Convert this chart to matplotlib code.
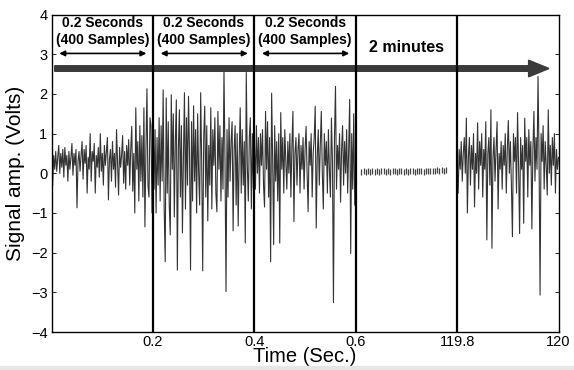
import numpy as np
import matplotlib.pyplot as plt
from matplotlib.patches import Rectangle

plt.rcParams['font.family'] = ['Liberation Sans', 'DejaVu Sans']

# each recorded window: 0.2 s (400 samples), shown here at 100 points per window
seg1 = [0.35, -0.30, 0.45, 0.10, 0.55, 0.05, 0.40, 0.70, 0.00, 0.50,
        0.15, 0.60, -0.10, 0.65, 0.20, 0.45, -0.20, 0.55, 0.10, 0.40,
        0.75, -0.05, 0.50, 0.20, 0.60, -0.87, 0.30, 0.55, 0.05, 0.45,
        0.80, -0.15, 0.60, 0.25, 0.70, -0.50, 0.40, 0.10, 1.00, -0.20,
        0.55, 0.30, 0.75, -0.50, 0.45, 0.15, 0.65, -0.10, 1.00, 0.05,
        0.50, -0.30, 0.70, 0.20, 0.55, 0.90, -0.67, 0.35, 0.60, -0.20,
        0.80, 0.10, 0.50, -0.35, 1.10, 0.25, -0.55, 0.65, 0.15, 0.45,
        0.95, -0.25, 0.55, -0.40, 0.70, 0.20, 0.85, -0.30, 0.60, 1.18,
        -0.45, 0.50, -1.00, 1.65, 0.10, 0.80, -0.70, 1.20, -0.20, 0.95,
        -0.60, 1.65, -1.35, 0.60, 2.13, -0.30, -0.60, 1.40, 1.20, -1.00]

seg2 = [1.50, -0.40, 1.10, -1.00, 0.90, -0.30, 1.40, -0.70, 1.20, -0.20,
        2.10, -0.90, -2.23, 1.90, -0.50, 1.30, -0.80, -1.55, 1.98, 0.10,
        1.50, -1.10, 0.80, 1.85, -2.44, 0.60, 1.60, -0.60, 1.20, -1.50,
        0.40, 2.03, -0.90, 1.40, -0.30, 1.94, 0.50, -2.44, 1.30, -0.70,
        1.70, -0.20, 1.10, -1.00, 1.50, 0.00, -0.80, 2.03, 0.30, -2.46,
        0.90, 1.69, -0.60, 1.20, -1.20, 0.70, -0.30, 1.65, -0.90, 1.10,
        0.20, 1.40, -0.50, -0.97, 1.56, 0.10, 1.20, -0.70, 0.90, -0.40,
        2.60, 0.30, -2.98, 1.10, -0.60, 1.40, -0.20, 0.80, 1.30, -1.45,
        0.60, 1.20, -0.80, 1.00, -1.33, 0.40, 1.65, -0.50, 1.10, -0.30,
        0.80, -1.76, 2.54, 0.20, -0.70, 0.90, 1.40, -0.90, 1.00, -0.40]

seg3 = [0.80, -0.40, 1.20, 0.00, 0.90, -0.50, 1.00, 0.20, 1.10, -0.30,
        -0.85, 1.56, 0.10, 1.30, -0.60, 0.90, -2.23, 2.02, 0.40, -1.80,
        1.20, -0.20, 0.80, -0.70, 1.00, -1.76, 1.53, 0.10, 0.90, -0.50,
        1.10, 0.30, -0.40, 0.80, 0.00, 1.00, -0.60, 0.70, 1.56, -1.22,
        0.50, 0.90, -0.30, 0.60, 1.00, -0.50, 0.70, 0.10, 0.90, -0.40,
        0.60, 1.18, 0.00, -0.97, 0.80, 0.20, 1.00, -0.60, 0.50, 0.90,
        1.69, -1.38, 0.40, 1.10, -0.30, 0.70, 1.56, 0.00, -0.90, 1.00,
        0.20, 0.80, -0.50, 1.10, 0.10, -0.60, 1.39, 0.30, -3.26, 0.90,
        2.19, -0.40, 0.70, 0.10, 1.00, -0.73, 0.60, 1.20, -0.30, 0.80,
        0.00, 1.10, -0.50, 0.60, 1.86, -2.02, 1.00, -0.40, 1.50, -0.80]

seg_last = [0.20, -0.50, 0.60, 0.10, 0.80, -0.20, 0.50, 0.90, 0.00, 1.39,
            -1.00, 0.40, 0.90, -0.30, 0.70, 0.10, 1.00, -0.85, 0.50, 0.00,
            1.27, -0.40, 0.80, 0.20, 1.00, -0.60, 0.60, 0.10, 1.30, -1.68,
            0.50, 0.90, -0.30, 1.60, -1.89, 0.40, 0.90, -0.20, 0.60, 1.30,
            -0.90, 0.50, 0.10, 0.80, -0.40, 0.70, 0.20, 1.00, -0.50, 0.60,
            1.33, 0.00, 0.80, -0.30, -1.60, 1.00, 0.30, 0.90, -0.50, 1.53,
            0.20, -1.52, 0.90, 0.10, 0.70, -1.26, 1.39, 0.30, 0.90, -0.60,
            1.10, 0.20, 0.80, -1.40, 0.60, 1.56, -0.20, 0.90, 0.10, 2.44,
            0.40, -3.07, 1.00, 0.30, 1.20, -0.40, 0.80, 0.20, -0.55, 1.60,
            0.00, 0.70, -0.30, 0.90, 0.20, 1.00, -0.50, 0.60, 0.10, 0.40]

# the 2-minute gap, drawn as a row of short ticks
gap_marks = [0.04, 0.05, 0.03, 0.05, 0.04, 0.06, 0.04, 0.05, 0.03, 0.05,
             0.06, 0.04, 0.05, 0.04, 0.06, 0.05, 0.04, 0.05, 0.06, 0.04,
             0.05, 0.04, 0.06, 0.05, 0.04, 0.05, 0.06, 0.05, 0.04, 0.06,
             0.05, 0.06, 0.05, 0.06, 0.07, 0.06, 0.07, 0.06, 0.07]

tick_pos = [0.2, 0.4, 0.6, 0.8, 1.0]
tick_labels = ['0.2', '0.4', '0.6', '119.8', '120']
window_top = ['0.2 Seconds'] * 3
window_bottom = ['(400 Samples)'] * 3

fig = plt.figure(figsize=(5.74, 3.70), dpi=100)
fig.patches.append(Rectangle((0, 0), 1, 0.012, transform=fig.transFigure,
                             color='#e6e6e6', zorder=0))
ax = fig.add_axes([0.090, 0.1027, 0.883, 0.858])

sig_color = '#333333'
first = np.array(seg1 + seg2 + seg3)
t_first = np.linspace(0, 0.6, len(first), endpoint=False)
ax.plot(t_first, first, color=sig_color, lw=0.8)

t_last = np.linspace(0.8, 1.0, len(seg_last))
ax.plot(t_last, seg_last, color=sig_color, lw=0.8)

t_gap = np.linspace(0.611, 0.778, len(gap_marks))
ax.plot(t_gap, gap_marks, ls='none', marker='|', ms=4, mew=0.9, color='#444444')

for x in tick_pos[:-1]:
    ax.axvline(x, color='black', lw=1.6, zorder=5)

# window annotations
for i in range(3):
    xc = 0.2 * i + 0.1
    ax.text(xc, 3.78, window_top[i], ha='center', va='center',
            fontsize=10, fontweight='bold')
    ax.text(xc, 3.36, window_bottom[i], ha='center', va='center',
            fontsize=10, fontweight='bold')
    ax.annotate('', xy=(0.2 * i + 0.187, 3.02), xytext=(0.2 * i + 0.015, 3.02),
                arrowprops=dict(arrowstyle='<|-|>', color='black', lw=1.2,
                                mutation_scale=8, shrinkA=0, shrinkB=0))

ax.text(0.7, 3.17, '2 minutes', ha='center', va='center',
        fontsize=11.5, fontweight='bold')
ax.arrow(0.006, 2.64, 0.975, 0, width=0.14, head_width=0.42, head_length=0.04,
         length_includes_head=True, color='#3a3a3a', zorder=4)

ax.set_xlim(0, 1.0)
ax.set_ylim(-4, 4)
ax.set_xticks(tick_pos)
ax.set_xticklabels(tick_labels)
ax.set_yticks(range(-4, 5))
ax.set_yticklabels([str(v).replace('-', '\u2212') for v in range(-4, 5)])
ax.tick_params(axis='both', direction='in', length=3, labelsize=10.5, pad=3,
               right=True, width=0.6)
ax.tick_params(axis='x', length=0, pad=2)
for s in ax.spines.values():
    s.set_linewidth(1.0)

ax.set_xlabel('Time (Sec.)', fontsize=14.5, labelpad=-1.5)
ax.set_ylabel('Signal amp. (Volts)', fontsize=15, labelpad=4)

fig.savefig('out.png', dpi=100)
